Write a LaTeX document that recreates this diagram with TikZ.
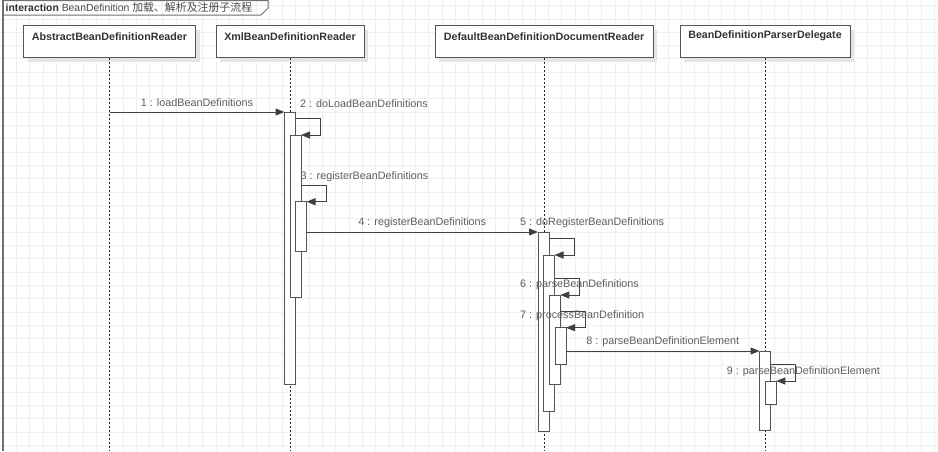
\documentclass[tikz,border=0pt]{standalone}
\usepackage{fontspec}
\setmainfont{Liberation Sans}
\newfontfamily\cjk{Noto Sans CJK SC}
\usetikzlibrary{arrows.meta}
\definecolor{gridc}{HTML}{EFEFEF}
\definecolor{linec}{HTML}{404040}
\definecolor{barc}{HTML}{555555}
\definecolor{labc}{HTML}{5E5E5E}
\definecolor{ptc}{HTML}{333333}
\definecolor{framec}{HTML}{707070}
\definecolor{shadc}{HTML}{E4E4E4}
\tikzset{
  pbox/.style={draw=barc, fill=white, line width=1pt, rectangle, inner sep=0pt, outer sep=0pt, anchor=north west, minimum height=32pt},
  pshadow/.style={fill=shadc},
  ptext/.style={font=\fontsize{10.7}{12}\selectfont\bfseries, text=ptc, inner sep=0pt},
  lifeline/.style={draw=black!85, line width=1pt, dash pattern=on 2pt off 2pt},
  actbar/.style={draw=barc, fill=white, line width=1pt, rectangle, inner sep=0pt, outer sep=0pt, anchor=north west, minimum width=11pt},
  msg/.style={draw=linec, line width=1pt, -{Triangle[length=9pt,width=7pt]}},
  mlabel/.style={font=\fontsize{10.8}{12}\selectfont, text=labc, inner sep=0pt},
}
\begin{document}
\begin{tikzpicture}[x=1pt,y=-1pt]
\useasboundingbox (0,0) rectangle (938,451);
\fill[white] (0,0) rectangle (938,451);
% grid
\foreach \i in {0,...,70} \draw[gridc, line width=1pt] ({3.33+13.3*\i},0) -- ({3.33+13.3*\i},451);
\foreach \j in {0,...,33} \draw[gridc, line width=1pt] (0,{5.67+13.33*\j}) -- (938,{5.67+13.33*\j});
% frame
\draw[framec, line width=1.6pt] (3,0) -- (3,451);
\draw[framec, line width=1pt] (3,0.5) -- (268,0.5) -- (268,8) -- (261,15) -- (3,15);
\node[anchor=west, inner sep=0pt, font=\fontsize{10.4}{12}\selectfont, text=ptc] (title) at (5.5,7.5) {\textbf{interaction} \textcolor{black!70}{BeanDefinition {\cjk\fontsize{10.9}{12}\selectfont 加载、解析及注册子流程}}};
% participant shadows
\fill[pshadow] (27.5,29.7) rectangle (199.5,61.7);
\fill[pshadow] (220,29.7) rectangle (368,61.7);
\fill[pshadow] (439,29.7) rectangle (657,61.7);
\fill[pshadow] (684,29.7) rectangle (854,61.7);
% participants
\node[pbox, minimum width=172pt] (A) at (23.5,25.7) {};
\node[pbox, minimum width=148pt] (X) at (216,25.7) {};
\node[pbox, minimum width=218pt] (D) at (435,25.7) {};
\node[pbox, minimum width=170pt] (P) at (680,25.7) {};
\node[ptext] (At) at ([yshift=-10.5pt]A.north) {AbstractBeanDefinitionReader};
\node[ptext] (Xt) at ([yshift=-10.5pt]X.north) {XmlBeanDefinitionReader};
\node[ptext] (Dt) at ([yshift=-10.5pt]D.north) {DefaultBeanDefinitionDocumentReader};
\node[ptext] (Pt) at ([yshift=-10.5pt]P.north) {BeanDefinitionParserDelegate};
% lifelines
\coordinate (Ae) at (A.south |- 0,451);
\coordinate (Xe) at (X.south |- 0,451);
\coordinate (De) at (D.south |- 0,451);
\coordinate (Pe) at (P.south |- 0,451);
\draw[lifeline] (A.south) -- (Ae);
\draw[lifeline] (X.south) -- (Xe);
\draw[lifeline] (D.south) -- (De);
\draw[lifeline] (P.south) -- (Pe);
% activation bars
\node[actbar, minimum height=272pt] (X1) at (284.5,112) {};
\node[actbar, minimum height=162.7pt] (X2) at (290,135) {};
\node[actbar, minimum height=50pt] (X3) at (295.5,201.7) {};
\node[actbar, minimum height=199pt] (D1) at (538,232) {};
\node[actbar, minimum height=156pt] (D2) at (543.5,255) {};
\node[actbar, minimum height=89.3pt] (D3) at (549.3,295) {};
\node[actbar, minimum height=36.6pt] (D4) at (555,327.7) {};
\node[actbar, minimum height=79.7pt] (P1) at (759.5,351) {};
\node[actbar, minimum height=23.3pt] (P2) at (765.3,381) {};
% messages
\draw[msg] (A.south |- X1.north west) -- node[mlabel, yshift=9pt] (l1) {1 : loadBeanDefinitions} (X1.north west);
\draw[msg] (X1.east |- 0,118.3) -- ++(25,0) |- (X2.north east);
\node[mlabel, anchor=west] (l2) at (300,103.3) {2 : doLoadBeanDefinitions};
\draw[msg] (X2.east |- 0,185.5) -- ++(25,0) |- (X3.north east);
\node[mlabel, anchor=west] (l3) at (300.5,176.7) {3 : registerBeanDefinitions};
\draw[msg] (X3.east |- D1.north west) -- node[mlabel, yshift=9pt] (l4) {4 : registerBeanDefinitions} (D1.north west);
\draw[msg] (D1.east |- 0,238.3) -- ++(25,0) |- (D2.north east);
\node[mlabel, anchor=west] (l5) at (520,223) {5 : doRegisterBeanDefinitions};
\draw[msg] (D2.east |- 0,278.3) -- ++(25,0) |- (D3.north east);
\node[mlabel, anchor=west] (l6) at (520,284.3) {6 : parseBeanDefinitions};
\draw[msg] (D3.east |- 0,311) -- ++(25,0) |- (D4.north east);
\node[mlabel, anchor=west] (l7) at (520,316) {7 : processBeanDefinition};
\draw[msg] (D4.east |- P1.north west) -- node[mlabel, yshift=9pt] (l8) {8 : parseBeanDefinitionElement} (P1.north west);
\draw[msg] (P1.east |- 0,364.3) -- ++(25,0) |- (P2.north east);
\node[mlabel, anchor=west] (l9) at (726.7,371.7) {9 : parseBeanDefinitionElement};
\end{tikzpicture}
\end{document}
